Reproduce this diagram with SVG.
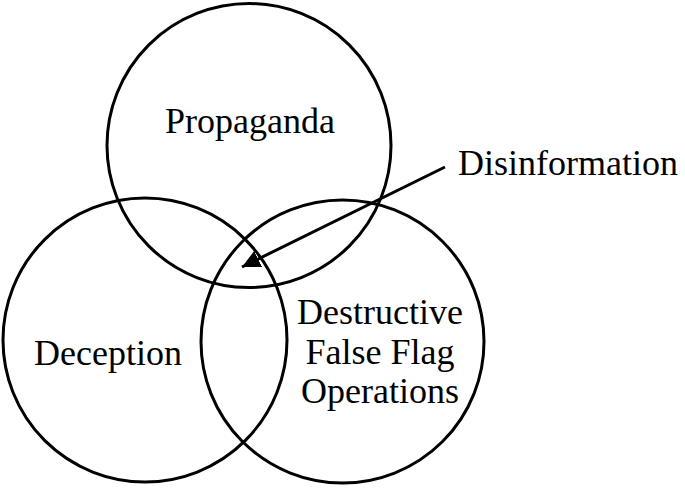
<svg xmlns="http://www.w3.org/2000/svg" width="685" height="488" viewBox="0 0 685 488">
<style>
.c{fill:none;stroke:#000;stroke-width:3}
.t{font-family:"Liberation Serif","Times New Roman",serif;font-size:36px;fill:#000;text-anchor:middle}
</style>
<defs>
<marker id="ah" viewBox="0 0 10 10" refX="10" refY="5" markerWidth="6" markerHeight="6" orient="auto" markerUnits="strokeWidth">
<path d="M0,0L10,5L0,10z" fill="#000"/>
</marker>
</defs>
<rect width="685" height="488" fill="#fff"/>
<g id="propaganda"><circle class="c" cx="249" cy="145.5" r="142"/><text class="t" x="250" y="133">Propaganda</text></g>
<g id="deception"><circle class="c" cx="145" cy="340" r="142"/><text class="t" x="108" y="365">Deception</text></g>
<g id="destructive"><circle class="c" cx="342.5" cy="341.5" r="141.5"/><text class="t" x="380" y="324">Destructive</text><text class="t" x="380" y="364">False Flag</text><text class="t" x="380" y="403">Operations</text></g>
<g id="disinformation"><text class="t" x="568" y="175">Disinformation</text></g>
<g id="connectors"><line x1="445" y1="167" x2="242" y2="267" stroke="#000" stroke-width="3" marker-end="url(#ah)"/></g>
</svg>
